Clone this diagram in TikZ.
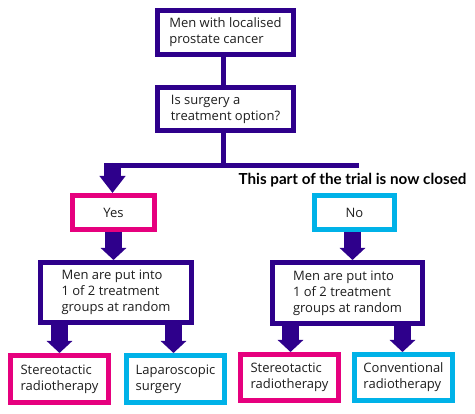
\documentclass[tikz,border=0pt]{standalone}
\usepackage{fontspec}
\setmainfont{Lato}
\newfontfamily\boxfont{Open Sans}
\usetikzlibrary{arrows.meta}
\definecolor{dpurple}{RGB}{46,0,139}
\definecolor{dpink}{RGB}{230,0,126}
\definecolor{dcyan}{RGB}{0,178,232}
\definecolor{txt}{RGB}{30,30,30}
\begin{document}
\begin{tikzpicture}[x=1pt,y=-1pt,
  box/.style={draw=#1, line width=5pt, fill=white, inner sep=0pt, align=left,
    text=txt, font=\boxfont\fontsize{13}{16}\selectfont},
  link/.style={draw=dpurple, line width=5pt},
  bigarrow/.style={draw=dpurple, fill=dpurple, line width=17pt,
    -{Triangle[width=25pt,length=#1]}},
]
\useasboundingbox (0,0) rectangle (475,414);
% boxes
\node[box=dpurple, minimum width=136pt, minimum height=44pt] (top) at (225.5,32.5) {Men with localised\\prostate cancer};
\node[box=dpurple, minimum width=136pt, minimum height=43pt] (q) at (225.5,109) {Is surgery a\\treatment option?};
\node[box=dpink, minimum width=82pt, minimum height=34pt] (yes) at (113.5,212.5) {Yes};
\node[box=dcyan, minimum width=80pt, minimum height=34pt] (no) at (354.5,212.5) {No};
\node[box=dpurple, minimum width=151pt, minimum height=60pt] (menL) at (116,292.5) {Men are put into\\1 of 2 treatment\\groups at random};
\node[box=dpurple, minimum width=150pt, minimum height=61pt] (menR) at (347.5,293) {Men are put into\\1 of 2 treatment\\groups at random};
\node[box=dpink, minimum width=98pt, minimum height=47pt] (s1) at (59.5,379) {Stereotactic\\radiotherapy};
\node[box=dcyan, minimum width=98pt, minimum height=47pt] (lap) at (175.5,379) {Laparoscopic\\surgery};
\node[box=dpink, minimum width=98pt, minimum height=46pt] (s2) at (289.5,377.5) {Stereotactic\\radiotherapy};
\node[box=dcyan, minimum width=98pt, minimum height=46pt] (conv) at (403.5,377.5) {Conventional\\radiotherapy};
\node[anchor=base, font=\bfseries\fontsize{15.2}{18}\selectfont, text=black, inner sep=0pt] (closed) at (352.5,185) {This part of the trial is now closed};
% bar
\coordinate (barL) at (104,165.5);
\coordinate (barR) at (359,165.5);
\coordinate (barM) at (223,165.5);
\coordinate (yesdrop) at (112.5,163);
% connectors
\draw[link] ([xshift=-2.5pt]top.south) -- ([xshift=-2.5pt]q.north);
\draw[link] ([xshift=-2.5pt]q.south) -- (barM);
\draw[link] (barL) -- (barR);
\draw[bigarrow=17pt] (yesdrop) -- (yesdrop |- yes.north);
\draw[bigarrow=12pt] (yes.south) -- (yes.south |- menL.north);
\draw[bigarrow=12pt] ([xshift=-2pt]no.south) -- ([xshift=-2pt]no.south |- menR.north);
\draw[bigarrow=12pt] (menL.south -| s1.north) -- (s1.north);
\draw[bigarrow=12pt] ([xshift=-2pt]menL.south -| lap.north) -- ([xshift=-2pt]lap.north);
\draw[bigarrow=12pt] ([xshift=1pt]menR.south -| s2.north) -- ([xshift=1pt]s2.north);
\draw[bigarrow=12pt] ([xshift=-1pt]menR.south -| conv.north) -- ([xshift=-1pt]conv.north);
\end{tikzpicture}
\end{document}
